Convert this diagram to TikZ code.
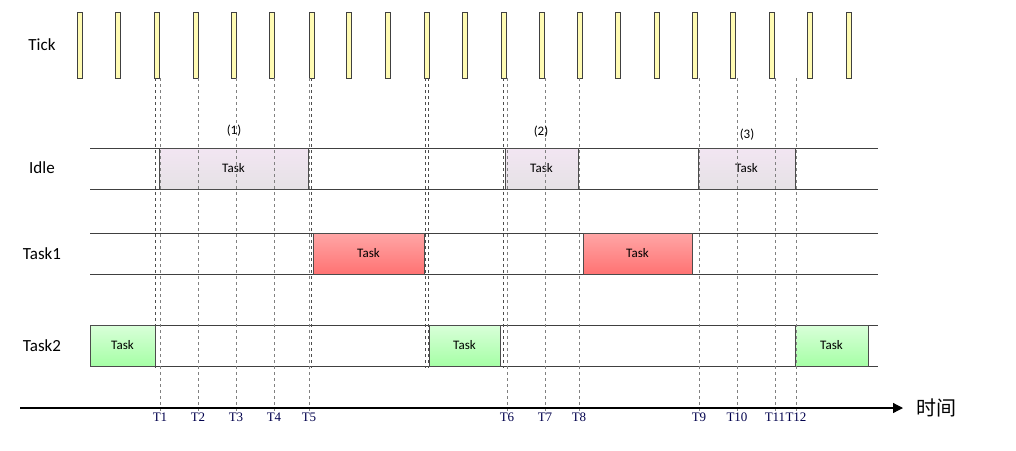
\documentclass[tikz,border=0pt]{standalone}
\usepackage{fontspec}
\setmainfont{Carlito}
\newfontfamily\serifT{Liberation Serif}
\newfontfamily\cjk{Noto Sans CJK SC}
\usetikzlibrary{arrows.meta}
\begin{document}
\begin{tikzpicture}[x=1pt,y=-1pt,
  tickbar/.style={draw=black!75,fill=yellow!30,line width=0.8pt},
  rowline/.style={draw=black!75,line width=0.9pt},
  idlebox/.style={draw=black!70,line width=1pt,top color=violet!10,bottom color=violet!15!gray!20},
  redbox/.style={draw=black!70,line width=1pt,top color=red!35,bottom color=red!55},
  greenbox/.style={draw=black!70,line width=1pt,top color=green!15,bottom color=green!35},
  guide/.style={draw=gray,dashed,line width=0.7pt},
  guidedark/.style={draw=black!70,dashed,line width=0.7pt},
  rowlab/.style={font=\fontsize{17}{17}\selectfont},
  tasklab/.style={font=\fontsize{13}{13}\selectfont},
  tlab/.style={font=\serifT\fontsize{13}{13}\selectfont,text=black!70!blue},
  num/.style={font=\fontsize{13}{13}\selectfont}]
\useasboundingbox (0,0) rectangle (1016,450);
% ticks
\foreach \x in {80,118,157,196,234,272,312,349,388,427,465,504,542,580,618,657,695,733,772,810,849}
  \draw[tickbar] (\x-2.5,12) rectangle (\x+2.5,78);
% row lines
\foreach \y in {148,189,233,274,325,366}
  \draw[rowline] (90,\y) -- (878,\y);
% boxes
\node[idlebox,minimum width=149pt,minimum height=41pt,inner sep=0,tasklab] (i1) at (233.5,168.5) {Task};
\node[idlebox,minimum width=73pt,minimum height=41pt,inner sep=0,tasklab] (i2) at (541.5,168.5) {Task};
\node[idlebox,minimum width=97pt,minimum height=41pt,inner sep=0,tasklab] (i3) at (746.5,168.5) {Task};
\node[redbox,minimum width=111pt,minimum height=41pt,inner sep=0,tasklab] (r1) at (368.5,253.5) {Task};
\node[redbox,minimum width=109pt,minimum height=41pt,inner sep=0,tasklab] (r2) at (637.5,253.5) {Task};
\node[greenbox,minimum width=65pt,minimum height=41pt,inner sep=0,tasklab] (g1) at (122.5,345.5) {Task};
\node[greenbox,minimum width=71pt,minimum height=41pt,inner sep=0,tasklab] (g2) at (464.5,345.5) {Task};
\node[greenbox,minimum width=73pt,minimum height=41pt,inner sep=0,tasklab] (g3) at (831.5,345.5) {Task};
% guide lines without labels
\foreach \x in {155,311,425,428,503}
  \draw[guidedark] (\x,78) -- (\x,368);
% labelled guides
\foreach \x/\t in {160/T1,198/T2,236/T3,274/T4,309/T5,507/T6,545/T7,579/T8,699/T9,737/T10,775/T11,796/T12}{
  \node[tlab,anchor=north,inner sep=1pt] (\t) at (\x,412) {\t};
  \draw[guide] (\x,78) -- (\t.north);
}
% axis
\coordinate (a0) at (20,408);
\coordinate (a1) at (903,408);
\node[font=\cjk\fontsize{20}{20}\selectfont,anchor=west,inner sep=1pt] (time) at (915,408) {时间};
\draw[line width=1.2pt,-{Triangle[length=10pt,width=10pt]}] (a0) -- (a1);
% labels
\node[rowlab] (ltick) at (42,45) {Tick};
\node[rowlab] (lidle) at (42,168) {Idle};
\node[rowlab] (lt1) at (42,254) {Task1};
\node[rowlab] (lt2) at (42,346) {Task2};
\node[num] (n1) at (234,131) {(1)};
\node[num] (n2) at (541,132) {(2)};
\node[num] (n3) at (747,135) {(3)};
\end{tikzpicture}
\end{document}
